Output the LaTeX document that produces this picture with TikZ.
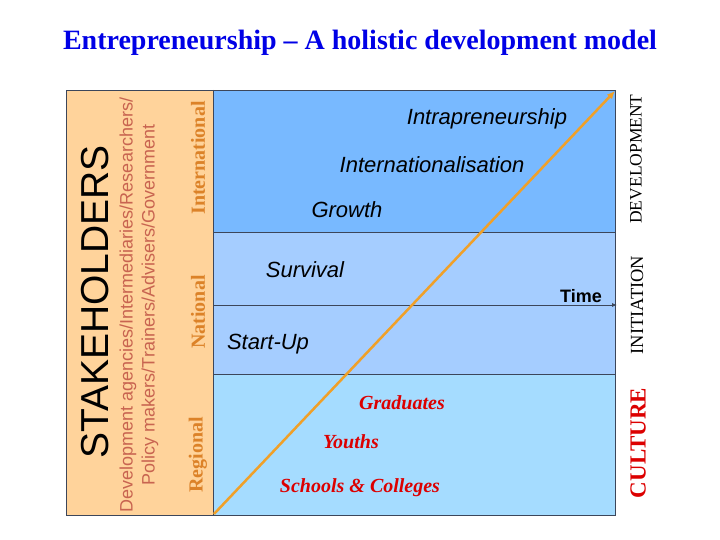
\documentclass[tikz,border=0pt]{standalone}
\usepackage{fontspec}
\setmainfont{Liberation Serif}
\setsansfont{Liberation Sans}
\usetikzlibrary{arrows.meta}
\definecolor{panelorange}{RGB}{255,211,155}
\definecolor{topblue}{RGB}{120,185,255}
\definecolor{midblue}{RGB}{165,205,255}
\definecolor{lowblue}{RGB}{165,220,255}
\definecolor{lineorange}{RGB}{240,160,40}
\definecolor{levelorange}{RGB}{220,130,40}
\definecolor{subbrown}{RGB}{200,100,80}
\definecolor{titleblue}{RGB}{0,0,230}
\definecolor{redtext}{RGB}{220,0,0}
\definecolor{framegray}{RGB}{60,70,90}
\tikzset{
  stagetext/.style={font=\fontsize{22}{26}\selectfont\sffamily\itshape, inner sep=0pt},
  culturetext/.style={font=\fontsize{20}{24}\selectfont\bfseries\itshape, text=redtext, inner sep=0pt},
  leveltext/.style={font=\fontsize{20}{24}\selectfont\bfseries, text=levelorange, rotate=90, inner sep=0pt},
  phasetext/.style={rotate=90, inner sep=0pt},
  frameline/.style={draw=framegray, line width=0.8pt},
}
\begin{document}
\begin{tikzpicture}[x=1pt,y=-1pt]
\useasboundingbox (0,0) rectangle (720,540);
% background regions
\fill[panelorange] (66,90) rectangle (213,515);
\fill[topblue] (213,90) rectangle (615,232);
\fill[midblue] (213,232) rectangle (615,374);
\fill[lowblue] (213,374) rectangle (615,515);
\draw[frameline] (66,90) rectangle (615,515);
\draw[frameline] (213,90) -- (213,515);
\draw[frameline] (213,232) -- (615,232);
\draw[frameline] (213,374) -- (615,374);
% title
\node[font=\fontsize{28}{32}\selectfont\bfseries, text=titleblue] (title) at (360,43) {Entrepreneurship -- A holistic development model};
% time axis
\coordinate (tstart) at (213,305);
\coordinate (tend) at (617,305);
\draw[draw=framegray, line width=0.8pt, -{Latex[length=5pt,width=4pt]}] (tstart) -- (tend);
\node[font=\fontsize{18}{20}\selectfont\sffamily\bfseries, inner sep=0pt] (time) at (581,296) {Time};
% orange diagonal
\coordinate (dstart) at (214,514);
\coordinate (dend) at (615,91);
\draw[draw=lineorange, line width=2.5pt, -{Latex[length=8pt,width=7pt]}] (dstart) -- (dend);
% stages
\node[stagetext] (intra) at (487,119) {Intrapreneurship};
\node[stagetext] (inter) at (432,165) {Internationalisation};
\node[stagetext] (growth) at (347,210) {Growth};
\node[stagetext] (surv) at (305,270) {Survival};
\node[stagetext] (start) at (268,344) {Start-Up};
\node[culturetext] (grad) at (402,403) {Graduates};
\node[culturetext] (youth) at (351,442) {Youths};
\node[culturetext] (school) at (360,488) {Schools \& Colleges};
% stakeholders panel
\node[font=\fontsize{39}{44}\selectfont\sffamily, rotate=90, inner sep=0pt] (stake) at (95,302) {STAKEHOLDERS};
\node[font=\fontsize{18}{22}\selectfont\sffamily, text=subbrown, rotate=90, align=center, inner sep=0pt] (sub) at (139,305) {Development agencies/Intermediaries/Researchers/\\Policy makers/Trainers/Advisers/Government};
\node[leveltext] (intl) at (198,158) {International};
\node[leveltext] (natl) at (198,312) {National};
\node[leveltext] (regl) at (198,455) {Regional};
% phases on right
\node[phasetext, font=\fontsize{17.5}{20}\selectfont] (dev) at (636,159) {DEVELOPMENT};
\node[phasetext, font=\fontsize{18.5}{21}\selectfont] (init) at (637,305) {INITIATION};
\node[phasetext, font=\fontsize{23}{26}\selectfont\bfseries, text=redtext] (cult) at (638,443) {CULTURE};
\end{tikzpicture}
\end{document}
